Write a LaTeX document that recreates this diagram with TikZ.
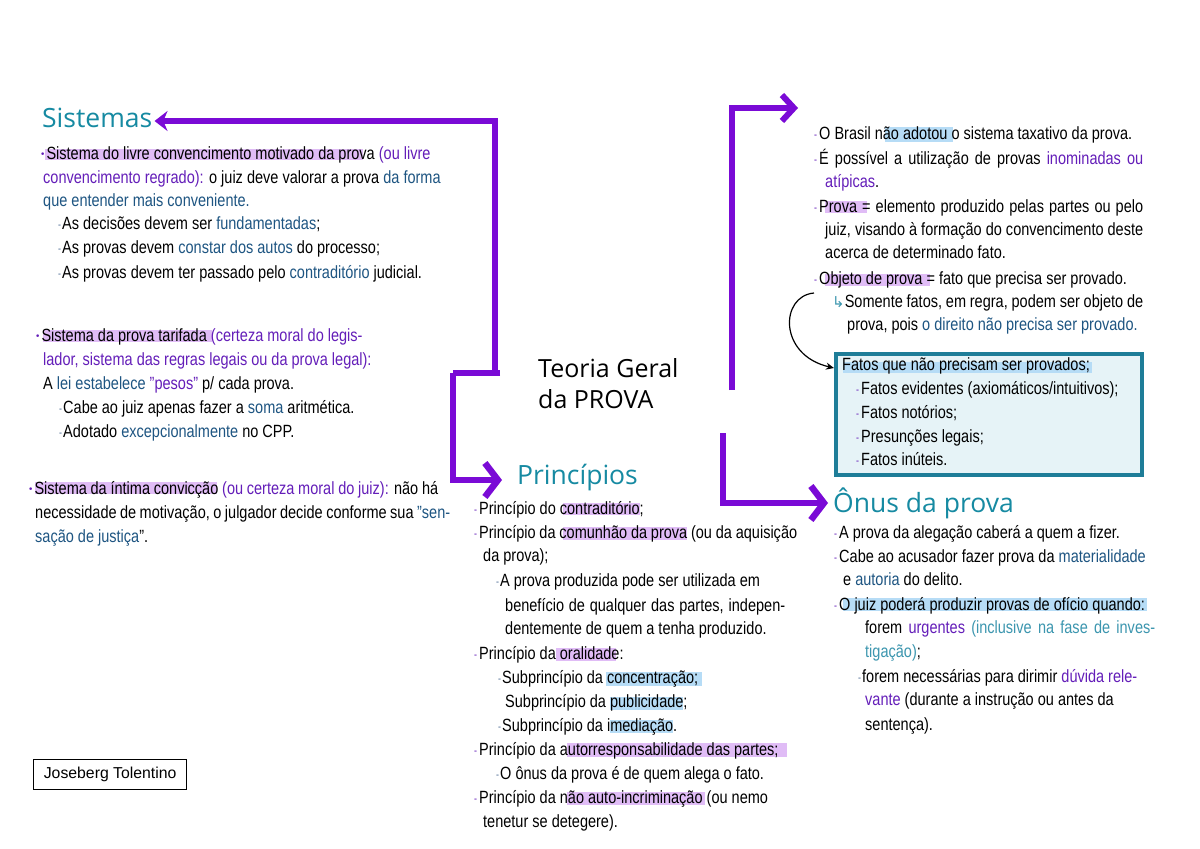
\documentclass[tikz,border=0pt]{standalone}
\usepackage{fontspec}
\setmainfont[FakeStretch=0.82]{Liberation Sans}
\newfontfamily\headfont{Open Sans}
\newfontfamily\plainfont{Liberation Sans}
\newfontfamily\symfont{DejaVu Sans}
\usetikzlibrary{arrows.meta}
\definecolor{arrowpurple}{RGB}{122,10,214}
\definecolor{headteal}{RGB}{22,138,162}
\definecolor{txpurple}{RGB}{100,30,185}
\definecolor{txblue}{RGB}{30,85,130}
\definecolor{txteal}{RGB}{60,150,175}
\definecolor{hlpurple}{RGB}{224,188,246}
\definecolor{hlblue}{RGB}{182,220,246}
\definecolor{boxteal}{RGB}{30,125,152}
\definecolor{boxfill}{RGB}{230,243,247}
\definecolor{bulgray}{RGB}{80,110,150}
\newcommand\cp[1]{\textcolor{txpurple}{#1}}
\newcommand\cb[1]{\textcolor{txblue}{#1}}
\newcommand\ct[1]{\textcolor{txteal}{#1}}
\newcommand\bp{\textcolor{txpurple}{\fontsize{11}{11}\selectfont\raisebox{1pt}{-}}\hspace{2pt}}
\newcommand\bq{\textcolor{bulgray}{\fontsize{11}{11}\selectfont\raisebox{1pt}{-}}\hspace{1pt}}
\newcommand\bd{\textcolor{txpurple}{\fontsize{9}{9}\selectfont\raisebox{2pt}{\symfont•}}\hspace{1pt}}
\begin{document}
\begin{tikzpicture}[x=1pt,y=-1pt,
  txt/.style={anchor=base west,inner sep=0pt,font=\fontsize{17.7}{21}\selectfont},
  head/.style={anchor=base west,inner sep=0pt,text=headteal,font=\headfont\fontsize{26.5}{30}\selectfont},
  conn/.style={draw=arrowpurple,line width=5.5pt,line join=miter,line cap=butt},
  chev/.style={-{Straight Barb[length=13pt,width=34pt,line width=6.5pt]}},
  chevs/.style={-{Straight Barb[length=12pt,width=26pt,line width=6pt]}},
  hlp/.style={fill=hlpurple},
  hlb/.style={fill=hlblue}]
\useasboundingbox (0,0) rectangle (1200,849);
\fill[white] (0,0) rectangle (1200,849);

% ---------- highlights ----------
\fill[hlp] (45,149) rectangle (363,160);
\fill[hlp] (43,330) rectangle (212,342);
\fill[hlp] (35,482) rectangle (217,494);
\fill[hlp] (563,503) rectangle (640,515);
\fill[hlp] (563,527) rectangle (687,540);
\fill[hlp] (556,648) rectangle (616,661);
\fill[hlb] (606,672) rectangle (702,686);
\fill[hlb] (610,697) rectangle (683,710);
\fill[hlb] (610,720) rectangle (673,733);
\fill[hlp] (567,743) rectangle (787,757);
\fill[hlp] (567,792) rectangle (705,805);
\fill[hlb] (885,127) rectangle (953,142);
\fill[hlp] (825,201) rectangle (867,213);
\fill[hlp] (825,274) rectangle (930,286);
\fill[hlb] (843,598) rectangle (1147,611);

% ---------- box ----------
\node[draw=boxteal,fill=boxfill,line width=3.5pt,anchor=north west,minimum width=306pt,minimum height=121pt,inner sep=0pt] (fbox) at (834,352) {};
\fill[hlb] (843,362) rectangle (1092,373);

% ---------- headings ----------
\node[head] (sis) at (42,127) {Sistemas};
\node[head] (pri) at (517,484) {Princípios};
\node[head] (onus) at (833,512) {Ônus da prova};
\node[anchor=base west,inner sep=0pt,font=\headfont\fontsize{25}{30}\selectfont,align=left] (teo) at (538,377) {Teoria Geral};
\node[anchor=base west,inner sep=0pt,font=\headfont\fontsize{25}{30}\selectfont] (teo2) at (538,408) {da PROVA};

% ---------- left column ----------
\node[txt] (a1) at (40,159) {\bd Sistema do livre convencimento motivado da prova \cp{(ou livre}};
\node[txt] (a2) at (43,183) {\cp{convencimento regrado):} o juiz deve valorar a prova \cb{da forma}};
\node[txt] (a3) at (43,206) {\cb{que entender mais conveniente.}};
\node[txt] (a4) at (58,229) {\bq As decisões devem ser \cb{fundamentadas};};
\node[txt] (a5) at (58,253) {\bq As provas devem \cb{constar dos autos} do processo;};
\node[txt] (a6) at (58,278) {\bq As provas devem ter passado pelo \cb{contraditório} judicial.};

\node[txt] (b1) at (35,341) {\bd Sistema da prova tarifada \cp{(certeza moral do legis-}};
\node[txt] (b2) at (43,365) {\cp{lador, sistema das regras legais ou da prova legal):}};
\node[txt] (b3) at (43,389) {A \cb{lei estabelece} \cp{"pesos"} p/ cada prova.};
\node[txt] (b4) at (59,413) {\bq Cabe ao juiz apenas fazer a \cb{soma} aritmética.};
\node[txt] (b5) at (59,437) {\bq Adotado \cb{excepcionalmente} no CPP.};

\node[txt] (c1) at (28,494) {\makebox[410pt][s]{\bd Sistema da íntima convicção \cp{(ou certeza moral do juiz):} não há}};
\node[txt] (c2) at (35,518) {\makebox[415pt][s]{necessidade de motivação, o julgador decide conforme sua \cb{"sen-}}};
\node[txt] (c3) at (35,542) {\cb{sação de justiça}".};

% ---------- middle column ----------
\node[txt] (m1) at (474,514) {\bp Princípio do contraditório;};
\node[txt] (m2) at (474,538) {\makebox[323pt][s]{\bp Princípio da comunhão da prova (ou da aquisição}};
\node[txt] (m3) at (483,561) {da prova);};
\node[txt] (m4) at (496,586) {\bq A prova produzida pode ser utilizada em};
\node[txt] (m5) at (505,611) {\makebox[280pt][s]{benefício de qualquer das partes, indepen-}};
\node[txt] (m6) at (505,634) {dentemente de quem a tenha produzido.};
\node[txt] (m7) at (474,659) {\bp Princípio da oralidade:};
\node[txt] (m8) at (498,683) {\bq Subprincípio da concentração;};
\node[txt] (m9) at (505,707) {Subprincípio da publicidade;};
\node[txt] (m10) at (498,731) {\bq Subprincípio da imediação.};
\node[txt] (m11) at (474,755) {\bp Princípio da autorresponsabilidade das partes;};
\node[txt] (m12) at (496,779) {\bq O ônus da prova é de quem alega o fato.};
\node[txt] (m13) at (474,803) {\bp Princípio da não auto-incriminação (ou nemo};
\node[txt] (m14) at (483,827) {tenetur se detegere).};

% ---------- right top ----------
\node[txt] (r1) at (814,139) {\bp O Brasil não adotou o sistema taxativo da prova.};
\node[txt] (r2) at (814,164) {\makebox[329pt][s]{\bp É possível a utilização de provas \cp{inominadas ou}}};
\node[txt] (r3) at (825,187) {\cp{atípicas}.};
\node[txt] (r4) at (814,212) {\makebox[329pt][s]{\bp Prova = elemento produzido pelas partes ou pelo}};
\node[txt] (r5) at (825,235) {\makebox[318pt][s]{juiz, visando à formação do convencimento deste}};
\node[txt] (r6) at (825,258) {acerca de determinado fato.};
\node[txt] (r7) at (814,284) {\bp Objeto de prova = fato que precisa ser provado.};
\node[txt] (r8) at (832,307) {\makebox[311pt][s]{\textcolor{txteal}{\symfont\fontsize{15}{15}\selectfont ↳}Somente fatos, em regra, podem ser objeto de}};
\node[txt] (r9) at (847,330) {prova, pois \cb{o direito não precisa ser provado.}};

% ---------- box text ----------
\node[txt] (f1) at (842,370) {Fatos que não precisam ser provados;};
\node[txt] (f2) at (856,394) {\bp Fatos evidentes (axiomáticos/intuitivos);};
\node[txt] (f3) at (856,418) {\bp Fatos notórios;};
\node[txt] (f4) at (856,442) {\bp Presunções legais;};
\node[txt] (f5) at (856,465) {\bp Fatos inúteis.};

% ---------- right bottom ----------
\node[txt] (o1) at (834,538) {\bp A prova da alegação caberá a quem a fizer.};
\node[txt] (o2) at (834,562) {\bp Cabe ao acusador fazer prova da \cb{materialidade}};
\node[txt] (o3) at (843,585) {e \cb{autoria} do delito.};
\node[txt] (o4) at (834,610) {\bp O juiz poderá produzir provas de ofício quando:};
\node[txt] (o5) at (865,633) {\makebox[290pt][s]{forem \cp{urgentes} \ct{(inclusive na fase de inves-}}};
\node[txt] (o6) at (865,657) {\ct{tigação)};};
\node[txt] (o7) at (858,682) {\bq forem necessárias para dirimir \cp{dúvida rele-}};
\node[txt] (o8) at (865,705) {\cp{vante} (durante a instrução ou antes da};
\node[txt] (o9) at (865,730) {sentença).};

% ---------- author ----------
\node[draw=black,line width=1.3pt,anchor=north west,minimum width=153pt,minimum height=30pt,inner sep=0pt,font=\plainfont\fontsize{15.8}{18}\selectfont] (auth) at (33,759) {Joseberg Tolentino};

% ---------- connectors ----------
\coordinate (hubL) at (495,121);
\coordinate (hubLb) at (495,373);
\coordinate (jL1) at (453,373);
\coordinate (jL2) at (453,480);
\coordinate (tipP) at (502,480);
\coordinate (jR1) at (732,390);
\coordinate (jR2) at (732,108);
\coordinate (tipR) at (798,108);
\coordinate (jB1) at (723,433);
\coordinate (jB2) at (723,503);
\coordinate (tipO) at (828,503);

\draw[conn,-{Stealth[length=13pt,width=20pt]}] (hubLb) -- (hubL) -- ([xshift=2pt]sis.east |- hubL);
\draw[conn] (500,373) -- (jL1);
\draw[conn,chev] (jL1) -- (jL2) -- (tipP);
\draw[conn,chevs] (jR1) -- (jR2) -- (tipR);
\draw[conn,chev] (jB1) -- (jB2) -- (tipO);

% curved arrow
\coordinate (cs) at (814,293);
\draw[black,line width=1.2pt,-{Stealth[length=8pt,width=7pt]}] (cs) .. controls (780,296) and (778,355) .. (fbox.west |- 0,368);
\end{tikzpicture}
\end{document}
